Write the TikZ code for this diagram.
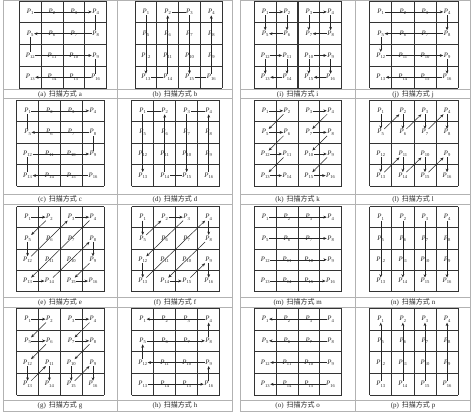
\documentclass[tikz,border=0pt]{standalone}
\usepackage{fontspec}
\setmainfont{Liberation Serif}
\newfontfamily\cjk{Noto Sans CJK SC}
\usetikzlibrary{arrows.meta}
\newcommand{\plab}[1]{\textit{P}\kern0.1bp\raisebox{-1.3bp}{\fontsize{4.6}{5}\selectfont #1}}
\newcommand{\pgrid}[5]{%
  \foreach \ii in {0,...,4}{%
    \draw[gridln] ({#2+\ii*#4},#3) -- ({#2+\ii*#4},{#3+4*#5});
    \draw[gridln] (#2,{#3+\ii*#5}) -- ({#2+4*#4},{#3+\ii*#5});
  }%
  \foreach \ro/\co/\pn in {1/1/1,1/2/2,1/3/3,1/4/4,2/1/5,2/2/6,2/3/7,2/4/8,3/1/12,3/2/11,3/3/10,3/4/9,4/1/13,4/2/14,4/3/15,4/4/16}{%
    \node[lbl] (#1\pn) at ({#2+(\co-0.5)*#4},{#3+(\ro-0.5)*#5}) {\plab{\pn}};
  }%
}
\newcommand{\midv}[4]{\draw[midln] ({#1+2*#3},#2) -- ({#1+2*#3},{#2+4*#4});}
\newcommand{\midh}[4]{\draw[midln] (#1,{#2+2*#4}) -- ({#1+4*#3},{#2+2*#4});}
\newcommand{\capt}[4]{\node[captxt] (#1) at (#2,#3) {(#4)\hspace{3bp}{\cjk 扫描方式}\hspace{2bp}#4};}
\begin{document}
\begin{tikzpicture}[x=1bp,y=-1bp,
  gridln/.style={draw=black!80,line width=0.75bp},
  midln/.style={draw=black!80,line width=1.2bp},
  tbl/.style={draw=black!30,line width=0.6bp},
  lbl/.style={font=\fontsize{6.8}{7}\selectfont,text=black!85,inner sep=0.4bp},
  captxt/.style={font=\fontsize{7}{8}\selectfont,text=black!85,inner sep=0bp},
  ar/.style={draw=black!85,line width=0.5bp,-{Stealth[length=3.4bp,width=2.8bp]}},
  ln/.style={draw=black!85,line width=0.5bp}]
\useasboundingbox (0,0) rectangle (474,415);
\fill[white] (0,0) rectangle (474,415);
% tables
\foreach \xa/\xm/\xb in {3/117.3/232.5, 240/355.5/470.7}{
  \draw[tbl] (\xa,0.5) rectangle (\xb,411);
  \draw[tbl] (\xm,0.5) -- (\xm,411);
  \foreach \yy in {89.3,98.5,194,204.5,297,307.7,400}{
    \draw[tbl] (\xa,\yy) -- (\xb,\yy);
  }
}
% grids
\pgrid{a}{19.3}{1}{21.8}{21.8}
\pgrid{b}{135}{1}{21.8}{21.8}
\pgrid{c}{16.7}{100}{21.8}{21.6}
\pgrid{d}{131.7}{100}{22}{21.6}
\pgrid{e}{16.7}{206.5}{21.8}{21.3}
\pgrid{f}{131.7}{206.5}{22}{21.3}
\pgrid{g}{16.7}{308.3}{21.8}{21.7}
\pgrid{h}{131.7}{308.3}{22}{21.7}
\pgrid{i}{254.3}{1}{21.8}{21.8}
\pgrid{j}{369.7}{1}{22.1}{21.8}
\pgrid{k}{254.3}{100}{21.8}{21.6}
\pgrid{l}{369.7}{100}{22.1}{21.6}
\pgrid{m}{254.3}{206.5}{21.8}{21.3}
\pgrid{n}{369.7}{206.5}{22.1}{21.3}
\pgrid{o}{254.3}{308.3}{21.8}{21.7}
\pgrid{p}{369.7}{308.3}{22.1}{21.7}
\midv{16.7}{308.3}{21.8}{21.7}\midh{16.7}{308.3}{21.8}{21.7}
\midv{254.3}{1}{21.8}{21.8}\midh{254.3}{1}{21.8}{21.8}
% captions
\capt{ca}{60}{94}{a}
\capt{cb}{175}{94}{b}
\capt{cc}{60}{199.3}{c}
\capt{cd}{175}{199.3}{d}
\capt{ce}{60}{302.5}{e}
\capt{cf}{175}{302.5}{f}
\capt{cg}{60}{405.5}{g}
\capt{ch}{175}{405.5}{h}
\capt{ci}{297.7}{94}{i}
\capt{cj}{413}{94}{j}
\capt{ck}{297.7}{199.3}{k}
\capt{cl}{413}{199.3}{l}
\capt{cm}{297.7}{302.5}{m}
\capt{cn}{413}{302.5}{n}
\capt{co}{297.7}{405.5}{o}
\capt{cp}{413}{405.5}{p}
% (a)
\draw[ar] (a1) -- (a4); \draw[ln] (a4) -- (a8); \draw[ar] (a8) -- (a5);
\draw[ln] (a5) -- (a12); \draw[ar] (a12) -- (a9); \draw[ln] (a9) -- (a16); \draw[ar] (a16) -- (a13);
% (b)
\draw[ar] (b1) -- (b13); \draw[ln] (b13) -- (b14); \draw[ar] (b14) -- (b2);
\draw[ln] (b2) -- (b3); \draw[ar] (b3) -- (b15); \draw[ln] (b15) -- (b16); \draw[ar] (b16) -- (b4);
% (c)
\draw[ar] (c16) -- (c13); \draw[ln] (c13) -- (c12); \draw[ar] (c12) -- (c9);
\draw[ln] (c9) -- (c8); \draw[ar] (c8) -- (c5); \draw[ln] (c5) -- (c1); \draw[ar] (c1) -- (c4);
% (d)
\draw[ar] (d16) -- (d4); \draw[ln] (d4) -- (d3); \draw[ar] (d3) -- (d15);
\draw[ln] (d15) -- (d14); \draw[ar] (d14) -- (d2); \draw[ln] (d2) -- (d1); \draw[ar] (d1) -- (d13);
% (e)
\foreach \s/\t in {1/2,2/5,5/12,12/3,3/4,4/13,13/14,14/8,8/9,9/15,15/16}{\draw[ar] (e\s) -- (e\t);}
% (f)
\foreach \s/\t in {1/5,5/2,2/3,3/12,12/13,13/4,4/8,8/14,14/15,15/9,9/16}{\draw[ar] (f\s) -- (f\t);}
% (g)
\foreach \s/\t in {1/2,2/5,5/6,6/12,12/13,13/11,11/14,3/4,4/7,7/8,8/10,10/15,15/9,9/16}{\draw[ar] (g\s) -- (g\t);}
% (h)
\foreach \s/\t in {13/16,16/9,9/12,12/5,5/8,8/4,4/1}{\draw[ar] (h\s) -- (h\t);}
% (i)
\foreach \a/\b/\c/\d in {1/2/6/5,3/4/8/7,12/11/14/13,10/9/16/15}{
  \draw[ar] (i\a) -- (i\b); \draw[ar] (i\b) -- (i\c); \draw[ar] (i\c) -- (i\d); \draw[ar] (i\a) -- (i\d);}
% (j)
\foreach \s/\t in {1/4,4/8,8/5,5/12,12/9,9/16,16/13}{\draw[ar] (j\s) -- (j\t);}
% (k)
\foreach \s/\t in {1/2,2/5,5/6,6/12,12/11,11/13,13/14,3/4,4/7,7/8,8/10,10/9,9/15,15/16}{\draw[ar] (k\s) -- (k\t);}
% (l)
\foreach \s/\t in {1/5,5/2,2/6,6/3,3/7,7/4,4/8,12/13,13/11,11/14,14/10,10/15,15/9,9/16}{\draw[ar] (l\s) -- (l\t);}
% (m)
\foreach \s/\t in {1/4,5/8,12/9,13/16}{\draw[ar] (m\s) -- (m\t);}
% (n)
\foreach \s/\t in {1/13,2/14,3/15,4/16}{\draw[ar] (n\s) -- (n\t);}
% (o)
\foreach \s/\t in {4/1,8/5,9/12,16/13}{\draw[ar] (o\s) -- (o\t);}
% (p)
\foreach \s/\t in {13/1,14/2,15/3,16/4}{\draw[ar] (p\s) -- (p\t);}
\end{tikzpicture}
\end{document}
